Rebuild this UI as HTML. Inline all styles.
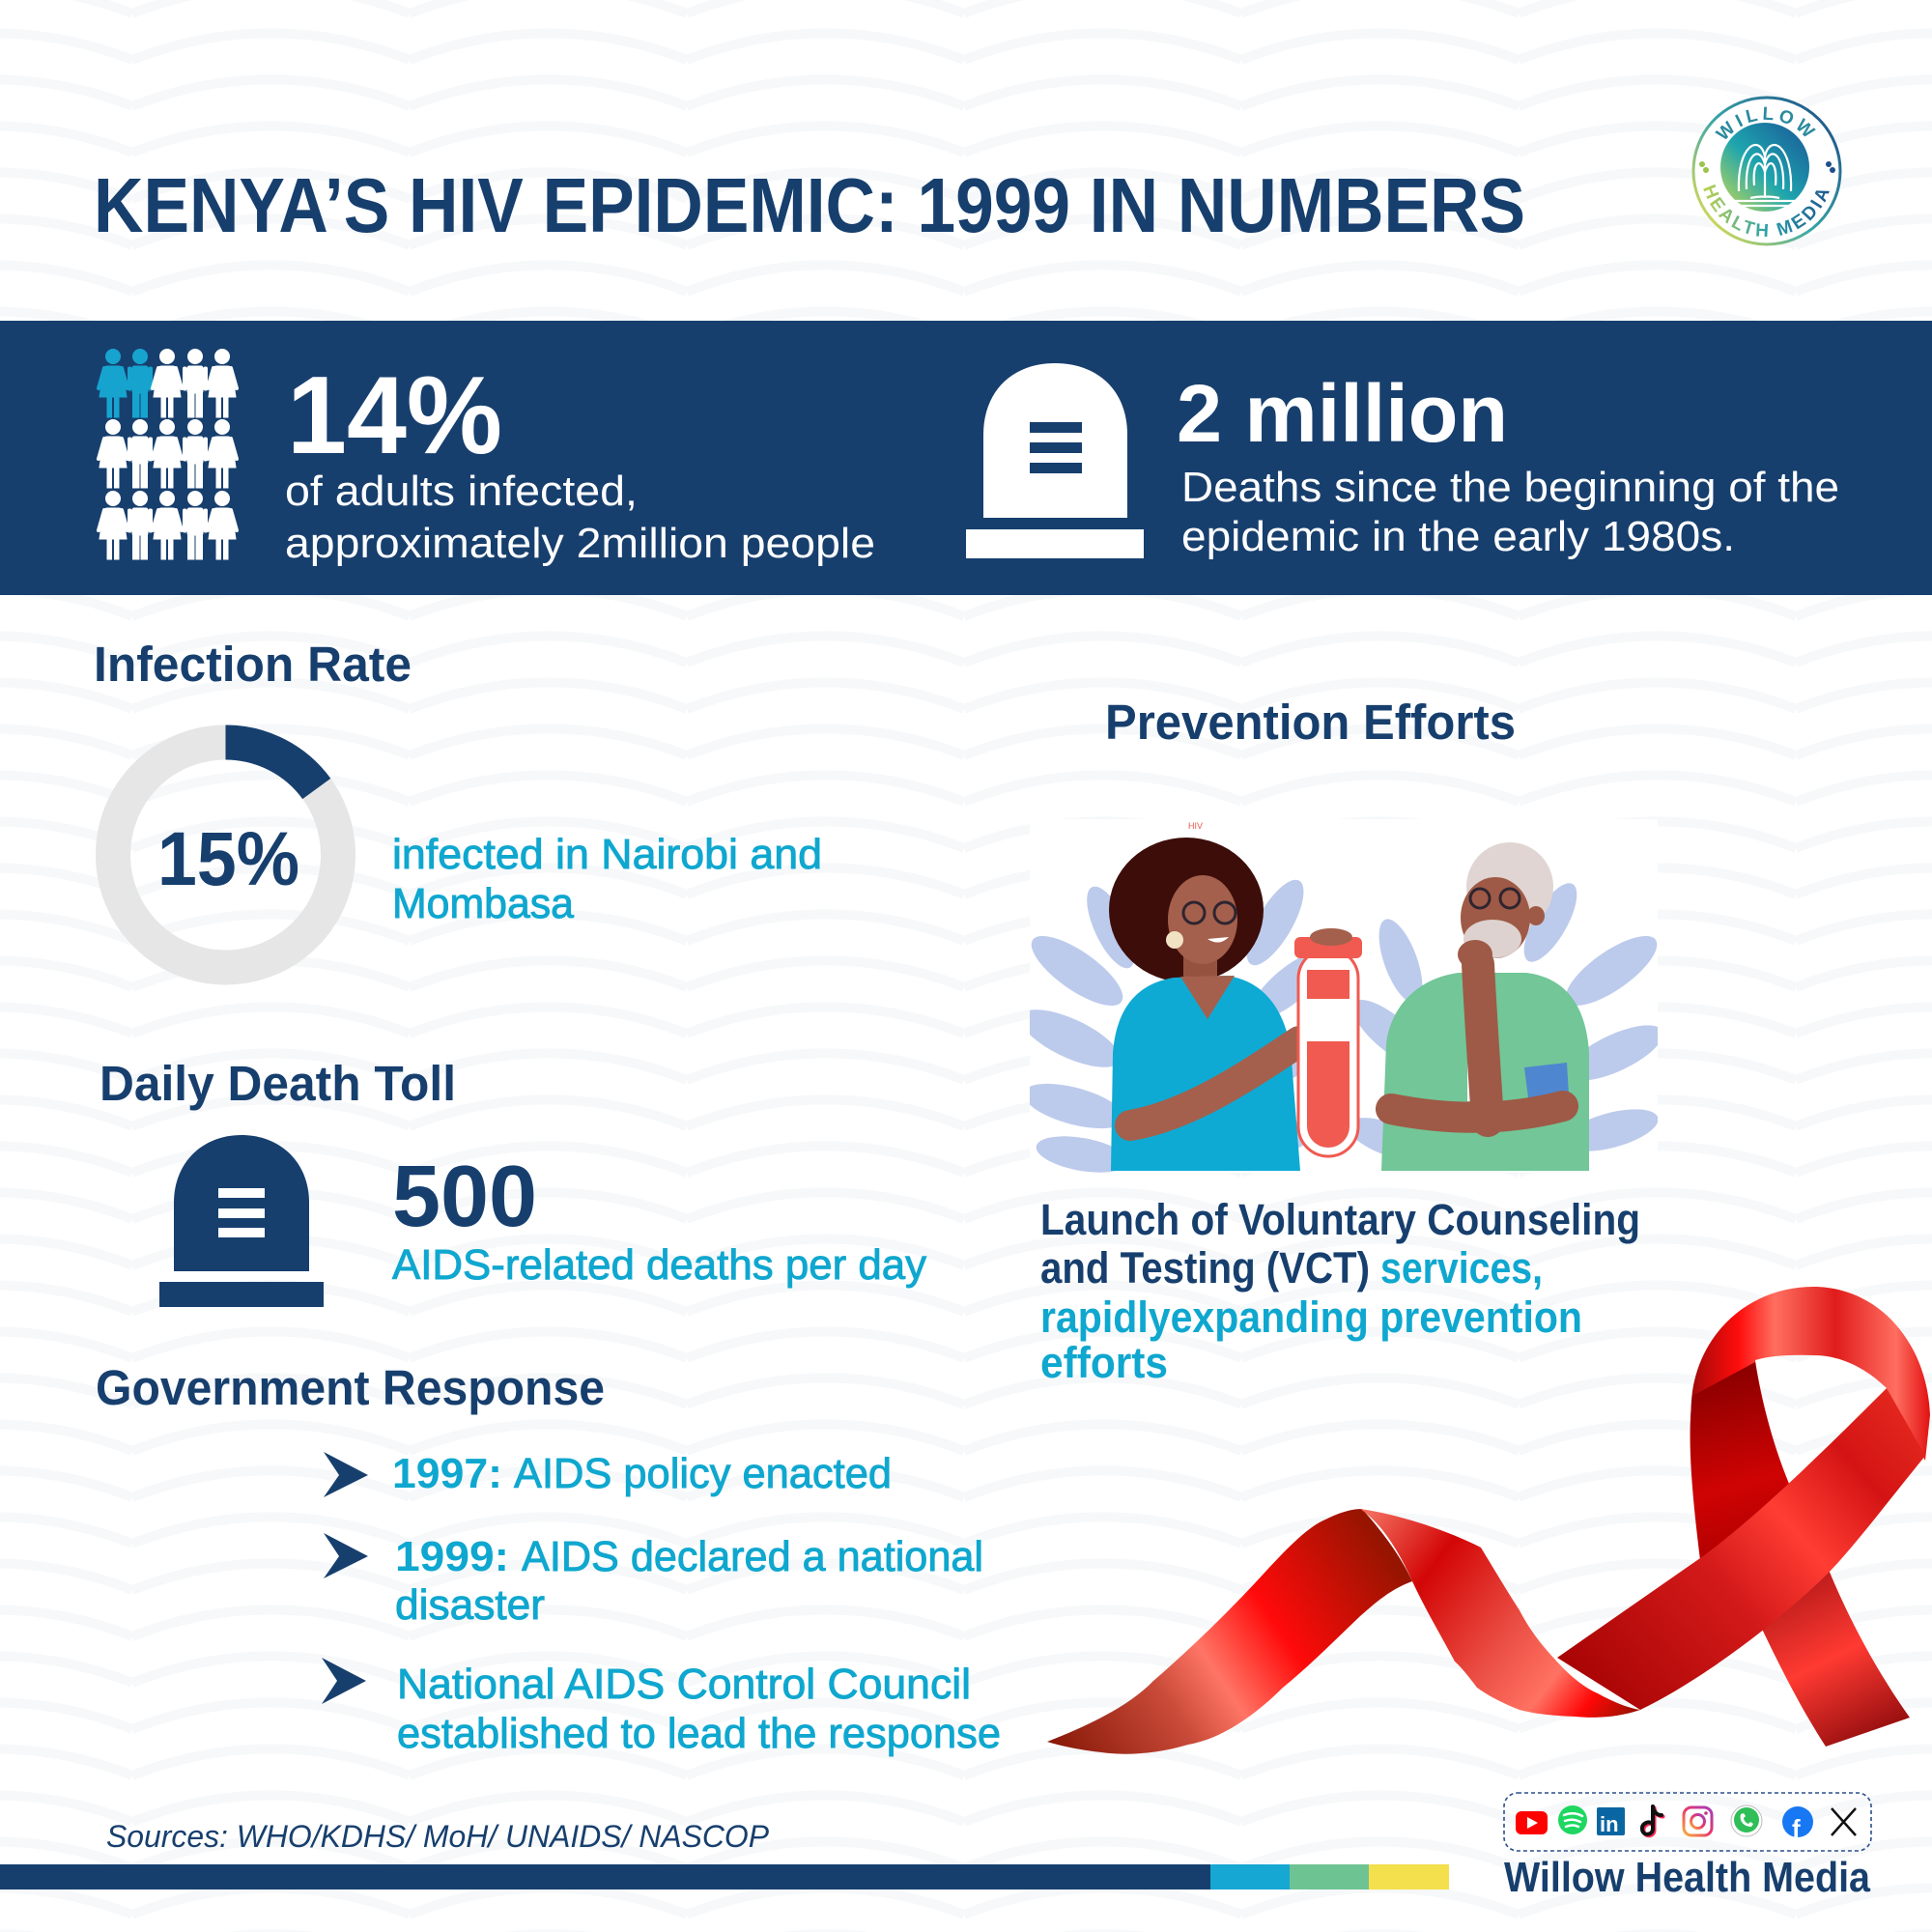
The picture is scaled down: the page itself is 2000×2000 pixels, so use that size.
<!DOCTYPE html>
<html><head><meta charset="utf-8"><style>
html,body{margin:0;padding:0;background:#fff;}
svg{display:block;}
text{font-family:"Liberation Sans",sans-serif;}
</style></head><body>
<svg width="2000" height="2000" viewBox="0 0 2000 2000" xmlns="http://www.w3.org/2000/svg">
<defs>
<pattern id="bgp" x="137" y="62" width="287" height="48" patternUnits="userSpaceOnUse">
<g fill="none" stroke="#f6f8fa" stroke-width="10">
<path d="M0,0 A386,386 0 0 1 287,0"/>
<path d="M0,48 A386,386 0 0 1 287,48"/>
<path d="M0,96 A386,386 0 0 1 287,96"/>
</g>
</pattern>
<clipPath id="illClip"><rect x="1066" y="848" width="650" height="366"/></clipPath>
<linearGradient id="ringG" x1="1755" y1="240" x2="1905" y2="110" gradientUnits="userSpaceOnUse">
<stop offset="0" stop-color="#f0e24a"/><stop offset="0.45" stop-color="#3aa7a8"/><stop offset="1" stop-color="#1a4a86"/>
</linearGradient>
<linearGradient id="logoG" x1="1785" y1="215" x2="1870" y2="130" gradientUnits="userSpaceOnUse">
<stop offset="0" stop-color="#b9d65a"/><stop offset="0.45" stop-color="#1ea5ae"/><stop offset="1" stop-color="#1a5a98"/>
</linearGradient>
<linearGradient id="botTxtG" x1="1760" y1="0" x2="1900" y2="0" gradientUnits="userSpaceOnUse">
<stop offset="0" stop-color="#c4d44a"/><stop offset="0.5" stop-color="#2aa1ac"/><stop offset="1" stop-color="#1c4f8c"/>
</linearGradient>
<linearGradient id="gA" x1="1090" y1="1800" x2="1420" y2="1580" gradientUnits="userSpaceOnUse">
<stop offset="0" stop-color="#8a1a0a"/><stop offset="0.3" stop-color="#c94a38"/><stop offset="0.45" stop-color="#ff7565"/><stop offset="0.65" stop-color="#ff0a0a"/><stop offset="1" stop-color="#951500"/>
</linearGradient>
<linearGradient id="gB" x1="1420" y1="1565" x2="1690" y2="1770" gradientUnits="userSpaceOnUse">
<stop offset="0" stop-color="#f26b5c"/><stop offset="0.25" stop-color="#d30606"/><stop offset="0.55" stop-color="#ea4c42"/><stop offset="0.75" stop-color="#ff7262"/><stop offset="0.88" stop-color="#ff0808"/><stop offset="1" stop-color="#a01000"/>
</linearGradient>
<linearGradient id="gD" x1="1650" y1="1760" x2="1990" y2="1460" gradientUnits="userSpaceOnUse">
<stop offset="0" stop-color="#a80404"/><stop offset="0.4" stop-color="#d41a1a"/><stop offset="0.6" stop-color="#ff3d33"/><stop offset="0.8" stop-color="#d41414"/><stop offset="1" stop-color="#e52a20"/>
</linearGradient>
<linearGradient id="gL" x1="1750" y1="1360" x2="2000" y2="1360" gradientUnits="userSpaceOnUse">
<stop offset="0" stop-color="#a00808"/><stop offset="0.2" stop-color="#ff0d0d"/><stop offset="0.35" stop-color="#ff6f60"/><stop offset="0.6" stop-color="#e01c1c"/><stop offset="0.85" stop-color="#ff6e60"/><stop offset="1" stop-color="#e00c0c"/>
</linearGradient>
<linearGradient id="gLs" x1="1780" y1="1420" x2="1830" y2="1610" gradientUnits="userSpaceOnUse">
<stop offset="0" stop-color="#8a0000"/><stop offset="0.6" stop-color="#cf0303"/><stop offset="1" stop-color="#b00000"/>
</linearGradient>
<linearGradient id="gE" x1="1850" y1="1640" x2="1930" y2="1800" gradientUnits="userSpaceOnUse">
<stop offset="0" stop-color="#b81a1a"/><stop offset="0.5" stop-color="#ff3a32"/><stop offset="1" stop-color="#9a1010"/>
</linearGradient>
<linearGradient id="igG" x1="0" y1="1" x2="1" y2="0">
<stop offset="0" stop-color="#f8b13a"/><stop offset="0.5" stop-color="#e8396a"/><stop offset="1" stop-color="#a23ac0"/>
</linearGradient>
<g id="fem">
<circle cx="0" cy="0" r="7.5"/>
<path d="M-6,10 L6,10 Q9,10 10,14 L14,42 L-14,42 L-10,14 Q-9,10 -6,10 Z"/>
<path d="M-9,12 L-15,33" stroke-width="4" stroke-linecap="round"/>
<path d="M9,12 L15,33" stroke-width="4" stroke-linecap="round"/>
<rect x="-6" y="40" width="4.5" height="23"/>
<rect x="1.5" y="40" width="4.5" height="23"/>
</g>
<g id="mal">
<circle cx="0" cy="0" r="7.5"/>
<rect x="-8" y="10" width="16" height="28" rx="2"/>
<rect x="-12.5" y="11" width="3.5" height="24" rx="1.5"/>
<rect x="9" y="11" width="3.5" height="24" rx="1.5"/>
<rect x="-7.5" y="36" width="6.5" height="27"/>
<rect x="1" y="36" width="6.5" height="27"/>
</g>
<path id="arcTop" d="M1776,177 A53,53 0 0 1 1882,177"/>
<path id="arcBot" d="M1761,177 A68,68 0 0 0 1897,177"/>
</defs>

<!-- background -->
<rect x="0" y="0" width="2000" height="2000" fill="#ffffff"/>
<rect x="0" y="0" width="2000" height="2000" fill="url(#bgp)"/>

<!-- title -->
<text x="97" y="240" font-size="80" font-weight="bold" fill="#173f6e" textLength="1482" lengthAdjust="spacingAndGlyphs">KENYA’S HIV EPIDEMIC: 1999 IN NUMBERS</text>

<!-- logo -->
<circle cx="1829" cy="177" r="76" fill="#ffffff" stroke="url(#ringG)" stroke-width="3"/>
<circle cx="1827" cy="173" r="46" fill="url(#logoG)"/>
<g fill="none" stroke="#ffffff" stroke-width="2.2">
<path d="M1800,198 C1798,150 1822,138 1827,162 C1832,138 1856,150 1854,198"/>
<path d="M1808,196 C1806,158 1822,150 1827,170 C1832,150 1848,158 1846,196"/>
<path d="M1816,192 C1814,168 1822,162 1827,178 C1832,162 1840,168 1838,192"/>
<path d="M1827,162 L1827,205 M1812,205 C1820,203 1834,203 1842,205"/>
<path d="M1790,208 L1864,208 M1796,213 L1858,213"/>
</g>
<text font-size="19" font-weight="bold" fill="#2a8a9e"><textPath href="#arcTop" startOffset="50%" text-anchor="middle" letter-spacing="4">WILLOW</textPath></text>
<text font-size="19" font-weight="bold" fill="url(#botTxtG)"><textPath href="#arcBot" startOffset="50%" text-anchor="middle" letter-spacing="3">HEALTH MEDIA</textPath></text>
<g fill="#9cc44a"><circle cx="1762" cy="170" r="3"/><circle cx="1766" cy="176" r="3"/></g>
<g fill="#1f4f8a"><circle cx="1893" cy="170" r="3"/><circle cx="1897" cy="176" r="3"/></g>

<!-- blue band -->
<rect x="0" y="332" width="2000" height="284" fill="#173f6e"/>

<!-- people -->
<g fill="#16a4cf" stroke="#16a4cf">
<use href="#fem" x="117" y="369"/>
<use href="#mal" x="145" y="369"/>
</g>
<g fill="#ffffff" stroke="#ffffff">
<use href="#fem" x="173" y="369"/>
<use href="#mal" x="202" y="369"/>
<use href="#fem" x="230" y="369"/>
<use href="#fem" x="117" y="442"/>
<use href="#mal" x="145" y="442"/>
<use href="#fem" x="173" y="442"/>
<use href="#mal" x="202" y="442"/>
<use href="#fem" x="230" y="442"/>
<use href="#fem" x="117" y="516"/>
<use href="#mal" x="145" y="516"/>
<use href="#fem" x="173" y="516"/>
<use href="#mal" x="202" y="516"/>
<use href="#fem" x="230" y="516"/>
</g>

<text x="297" y="469" font-size="114" font-weight="bold" fill="#ffffff" textLength="223" lengthAdjust="spacingAndGlyphs">14%</text>
<text x="295" y="523" font-size="44" fill="#ffffff" textLength="365" lengthAdjust="spacingAndGlyphs">of adults infected,</text>
<text x="295" y="577" font-size="44" fill="#ffffff" textLength="611" lengthAdjust="spacingAndGlyphs">approximately 2million people</text>

<!-- white tombstone -->
<path d="M1018,536 L1018,450 C1018,405 1048,376 1092,376 C1137,376 1167,405 1167,450 L1167,536 Z" fill="#ffffff"/>
<rect x="1000" y="548" width="184" height="30" fill="#ffffff"/>
<g fill="#173f6e">
<rect x="1066" y="437" width="54" height="11"/>
<rect x="1066" y="458" width="54" height="11"/>
<rect x="1066" y="479" width="54" height="11"/>
</g>

<text x="1218" y="457" font-size="84" font-weight="bold" fill="#ffffff" textLength="343" lengthAdjust="spacingAndGlyphs">2 million</text>
<text x="1223" y="519" font-size="44" fill="#ffffff" textLength="681" lengthAdjust="spacingAndGlyphs">Deaths since the beginning of the</text>
<text x="1223" y="570" font-size="44" fill="#ffffff" textLength="573" lengthAdjust="spacingAndGlyphs">epidemic in the early 1980s.</text>

<!-- Infection rate -->
<text x="97" y="705" font-size="51" font-weight="bold" fill="#173f6e" textLength="329" lengthAdjust="spacingAndGlyphs">Infection Rate</text>
<circle cx="233.5" cy="885" r="116.5" fill="none" stroke="#e6e6e6" stroke-width="36"/>
<path d="M233.5,768.5 A116.5,116.5 0 0 1 327.75,816.5" fill="none" stroke="#173f6e" stroke-width="36"/>
<text x="163" y="916" font-size="79" font-weight="bold" fill="#173f6e" textLength="147" lengthAdjust="spacingAndGlyphs">15%</text>
<g fill="#0fa7cf" stroke="#0fa7cf" stroke-width="0.9">
<text x="406" y="899" font-size="44" textLength="445" lengthAdjust="spacingAndGlyphs">infected in Nairobi and</text>
<text x="406" y="950" font-size="44" textLength="188" lengthAdjust="spacingAndGlyphs">Mombasa</text>
</g>

<!-- Daily death toll -->
<text x="103" y="1139" font-size="51" font-weight="bold" fill="#173f6e" textLength="369" lengthAdjust="spacingAndGlyphs">Daily Death Toll</text>
<path d="M180,1316 L180,1245 C180,1203 210,1175 250,1175 C290,1175 320,1203 320,1245 L320,1316 Z" fill="#173f6e"/>
<rect x="165" y="1327" width="170" height="26" fill="#173f6e"/>
<g fill="#ffffff">
<rect x="226" y="1230" width="48" height="10"/>
<rect x="226" y="1251" width="48" height="10"/>
<rect x="226" y="1271" width="48" height="10"/>
</g>
<text x="406" y="1269" font-size="90" font-weight="bold" fill="#173f6e" textLength="150" lengthAdjust="spacingAndGlyphs">500</text>
<text x="406" y="1324" font-size="44" fill="#0fa7cf" stroke="#0fa7cf" stroke-width="0.9" textLength="553" lengthAdjust="spacingAndGlyphs">AIDS-related deaths per day</text>

<!-- Government response -->
<text x="99" y="1454" font-size="51" font-weight="bold" fill="#173f6e" textLength="527" lengthAdjust="spacingAndGlyphs">Government Response</text>
<g fill="#173f6e">
<path d="M335,1503 L381,1527 L335,1550 L351,1527 Z"/>
<path d="M335,1587 L381,1611 L335,1634 L351,1611 Z"/>
<path d="M333,1716 L379,1740 L333,1764 L349,1740 Z"/>
</g>
<g fill="#0fa7cf">
<text x="406" y="1540" font-size="44" font-weight="bold" textLength="114" lengthAdjust="spacingAndGlyphs">1997:</text>
<text x="532" y="1540" font-size="44" stroke="#0fa7cf" stroke-width="0.9" textLength="391" lengthAdjust="spacingAndGlyphs">AIDS policy enacted</text>
<text x="409" y="1626" font-size="44" font-weight="bold" textLength="118" lengthAdjust="spacingAndGlyphs">1999:</text>
<text x="540" y="1626" font-size="44" stroke="#0fa7cf" stroke-width="0.9" textLength="478" lengthAdjust="spacingAndGlyphs">AIDS declared a national</text>
<text x="409" y="1676" font-size="44" stroke="#0fa7cf" stroke-width="0.9" textLength="155" lengthAdjust="spacingAndGlyphs">disaster</text>
<text x="411" y="1758" font-size="44" stroke="#0fa7cf" stroke-width="0.9" textLength="594" lengthAdjust="spacingAndGlyphs">National AIDS Control Council</text>
<text x="411" y="1809" font-size="44" stroke="#0fa7cf" stroke-width="0.9" textLength="625" lengthAdjust="spacingAndGlyphs">established to lead the response</text>
</g>

<!-- sources -->
<text x="110" y="1912" font-size="32" font-style="italic" fill="#173f6e" textLength="686" lengthAdjust="spacingAndGlyphs">Sources: WHO/KDHS/ MoH/ UNAIDS/ NASCOP</text>

<!-- bottom bar -->
<rect x="0" y="1930" width="1253" height="26" fill="#173f6e"/>
<rect x="1253" y="1930" width="82" height="26" fill="#17a7d3"/>
<rect x="1335" y="1930" width="82" height="26" fill="#6ec393"/>
<rect x="1417" y="1930" width="83" height="26" fill="#f4df4c"/>

<!-- Prevention efforts -->
<text x="1144" y="765" font-size="51" font-weight="bold" fill="#173f6e" textLength="425" lengthAdjust="spacingAndGlyphs">Prevention Efforts</text>

<!-- illustration -->
<rect x="1066" y="848" width="650" height="366" fill="#ffffff"/>
<g fill="#bccbec" clip-path="url(#illClip)">
<ellipse cx="1115" cy="1005" rx="56" ry="20" transform="rotate(35 1115 1005)"/>
<ellipse cx="1108" cy="1075" rx="56" ry="20" transform="rotate(25 1108 1075)"/>
<ellipse cx="1112" cy="1145" rx="54" ry="19" transform="rotate(15 1112 1145)"/>
<ellipse cx="1120" cy="1195" rx="48" ry="17" transform="rotate(10 1120 1195)"/>
<ellipse cx="1150" cy="960" rx="46" ry="17" transform="rotate(65 1150 960)"/>
<ellipse cx="1320" cy="955" rx="50" ry="18" transform="rotate(-60 1320 955)"/>
<ellipse cx="1335" cy="1020" rx="50" ry="18" transform="rotate(-40 1335 1020)"/>
<ellipse cx="1330" cy="1100" rx="50" ry="18" transform="rotate(-25 1330 1100)"/>
<ellipse cx="1320" cy="1180" rx="46" ry="16" transform="rotate(-15 1320 1180)"/>
<ellipse cx="1450" cy="995" rx="46" ry="17" transform="rotate(70 1450 995)"/>
<ellipse cx="1440" cy="1070" rx="50" ry="18" transform="rotate(40 1440 1070)"/>
<ellipse cx="1440" cy="1180" rx="48" ry="17" transform="rotate(20 1440 1180)"/>
<ellipse cx="1605" cy="955" rx="46" ry="17" transform="rotate(-60 1605 955)"/>
<ellipse cx="1668" cy="1005" rx="56" ry="20" transform="rotate(-35 1668 1005)"/>
<ellipse cx="1672" cy="1090" rx="54" ry="19" transform="rotate(-25 1672 1090)"/>
<ellipse cx="1668" cy="1170" rx="50" ry="18" transform="rotate(-15 1668 1170)"/>
</g>
<!-- woman -->
<ellipse cx="1228" cy="942" rx="80" ry="75" fill="#3d0d0a"/>
<rect x="1225" y="985" width="35" height="35" fill="#95533f"/>
<ellipse cx="1245" cy="952" rx="36" ry="46" fill="#a4604c"/>
<circle cx="1216" cy="973" r="9" fill="#f2e2c4"/>
<g fill="none" stroke="#2e2430" stroke-width="3"><circle cx="1236" cy="945" r="11"/><circle cx="1268" cy="945" r="11"/></g>
<path d="M1250,972 Q1262,980 1272,970" fill="#ffffff"/>
<path d="M1150,1212 L1152,1090 C1156,1040 1180,1018 1215,1012 L1270,1010 C1305,1015 1328,1040 1336,1085 L1346,1212 Z" fill="#0eaad3"/>
<path d="M1222,1011 L1250,1055 L1278,1010 Z" fill="#a4604c"/>
<path d="M1170,1165 C1230,1155 1290,1115 1345,1078" fill="none" stroke="#a4604c" stroke-width="32" stroke-linecap="round"/>
<!-- tube -->
<rect x="1344" y="982" width="62" height="215" rx="31" fill="#ffffff" stroke="#f05a50" stroke-width="3"/>
<rect x="1353" y="1004" width="44" height="30" fill="#f05a50"/>
<rect x="1353" y="1078" width="44" height="110" rx="22" fill="#f05a50"/>
<rect x="1353" y="1078" width="44" height="40" fill="#f05a50"/>
<rect x="1340" y="970" width="70" height="22" rx="6" fill="#f05a50"/>
<ellipse cx="1378" cy="970" rx="22" ry="9" fill="#a4604c"/>
<!-- man -->
<path d="M1430,1212 L1435,1080 C1440,1040 1470,1012 1510,1007 L1580,1007 C1620,1012 1642,1040 1645,1090 L1645,1212 Z" fill="#72c697"/>
<rect x="1519" y="1020" width="28" height="120" fill="#ffffff"/>
<ellipse cx="1563" cy="918" rx="45" ry="46" fill="#e0d5d2"/>
<ellipse cx="1590" cy="948" rx="9" ry="10" fill="#9e5a46"/>
<ellipse cx="1548" cy="950" rx="36" ry="42" fill="#9e5a46"/>
<ellipse cx="1545" cy="972" rx="30" ry="20" fill="#ddd2cf"/>
<g fill="none" stroke="#2e2430" stroke-width="3"><circle cx="1532" cy="930" r="10"/><circle cx="1563" cy="930" r="10"/></g>
<path d="M1540,1160 C1536,1100 1532,1040 1530,998" fill="none" stroke="#9e5a46" stroke-width="34" stroke-linecap="round"/>
<ellipse cx="1527" cy="988" rx="18" ry="15" fill="#9e5a46"/>
<path d="M1578,1105 L1622,1100 L1625,1150 L1585,1160 Z" fill="#4f86d0"/>
<path d="M1440,1148 C1500,1160 1560,1160 1618,1145" fill="none" stroke="#9e5a46" stroke-width="32" stroke-linecap="round"/>
<text x="1230" y="858" font-size="9" fill="#e8574b">HIV</text>

<!-- VCT text -->
<g font-size="45" font-weight="bold">
<text x="1077" y="1278" fill="#173f6e" textLength="621" lengthAdjust="spacingAndGlyphs">Launch of Voluntary Counseling</text>
<text x="1077" y="1328" fill="#173f6e" textLength="341" lengthAdjust="spacingAndGlyphs">and Testing (VCT)</text>
<text x="1429" y="1328" fill="#0fa7cf" textLength="168" lengthAdjust="spacingAndGlyphs">services,</text>
<text x="1077" y="1379" fill="#0fa7cf" textLength="561" lengthAdjust="spacingAndGlyphs">rapidlyexpanding prevention</text>
<text x="1077" y="1426" fill="#0fa7cf" textLength="132" lengthAdjust="spacingAndGlyphs">efforts</text>
</g>

<!-- red ribbon -->
<path d="M1821,1680 L1893,1625 C1920,1690 1950,1740 1977,1778 L1890,1808 C1865,1770 1840,1720 1821,1680 Z" fill="url(#gE)"/>
<path d="M1780,1615 C1757,1545 1746,1485 1752,1440 C1762,1375 1815,1332 1877,1332 C1945,1332 1995,1390 1998,1465 L1993,1512 L1953,1437 C1930,1415 1905,1403 1877,1403 C1850,1402 1830,1404 1817,1408 C1825,1460 1840,1510 1858,1550 Z" fill="url(#gL)"/>
<path d="M1760,1615 C1752,1550 1746,1490 1752,1445 L1817,1410 C1825,1460 1840,1510 1858,1550 Z" fill="url(#gLs)"/>
<path d="M1084,1803 C1130,1785 1170,1765 1194,1740 C1240,1700 1280,1660 1310,1627 C1335,1600 1355,1580 1372,1573 C1388,1565 1400,1562 1410,1562 C1435,1590 1452,1615 1462,1637 C1440,1645 1425,1658 1408,1673 C1380,1700 1355,1725 1328,1747 C1300,1775 1265,1800 1230,1806 C1200,1815 1170,1817 1149,1815 C1120,1812 1100,1808 1084,1803 Z" fill="url(#gA)"/>
<path d="M1612,1716 L1760,1613 C1820,1570 1900,1490 1953,1437 L1993,1507 C1950,1560 1920,1600 1893,1628 C1830,1690 1750,1745 1698,1770 Z" fill="url(#gD)"/>
<path d="M1408,1562 C1450,1568 1500,1585 1533,1602 C1550,1630 1562,1650 1573,1667 C1585,1690 1598,1705 1609,1717 C1625,1735 1640,1747 1654,1753 C1670,1762 1685,1768 1698,1770 C1675,1778 1650,1779 1631,1777 C1605,1776 1588,1774 1573,1770 C1555,1763 1540,1755 1529,1747 C1520,1735 1512,1725 1506,1720 C1490,1690 1475,1665 1462,1637 C1450,1610 1432,1578 1408,1562 Z" fill="url(#gB)"/>

<!-- social box -->
<rect x="1557" y="1856" width="380" height="60" rx="14" fill="none" stroke="#2b4f8a" stroke-width="1.6" stroke-dasharray="4 3"/>
<rect x="1569" y="1875" width="33" height="24" rx="6" fill="#ff0000"/>
<path d="M1581,1881 L1592,1887 L1581,1893 Z" fill="#ffffff"/>
<circle cx="1628" cy="1884" r="15" fill="#1ed760"/>
<g fill="none" stroke="#ffffff" stroke-width="2.5" stroke-linecap="round"><path d="M1619,1879 Q1629,1875 1638,1880"/><path d="M1620,1885 Q1628,1882 1636,1886"/><path d="M1621,1891 Q1628,1888 1634,1891"/></g>
<rect x="1653" y="1871" width="29" height="29" rx="2" fill="#0a66a2"/>
<text x="1656" y="1896" font-size="22" font-weight="bold" fill="#ffffff">in</text>
<path d="M1711,1870 L1711,1893 C1711,1900 1701,1901 1700,1894 C1699,1888 1706,1885 1709,1887 M1711,1870 C1712,1877 1716,1879 1720,1879" fill="none" stroke="#ff2a55" stroke-width="4" stroke-linecap="round" transform="translate(1.5,1.5)"/>
<path d="M1711,1870 L1711,1893 C1711,1900 1701,1901 1700,1894 C1699,1888 1706,1885 1709,1887 M1711,1870 C1712,1877 1716,1879 1720,1879" fill="none" stroke="#111111" stroke-width="4" stroke-linecap="round"/>
<rect x="1743" y="1871" width="29" height="29" rx="8" fill="none" stroke="url(#igG)" stroke-width="3"/>
<circle cx="1757.5" cy="1885.5" r="7" fill="none" stroke="url(#igG)" stroke-width="3"/>
<circle cx="1766" cy="1877" r="1.8" fill="#c13584"/>
<circle cx="1808" cy="1885" r="16" fill="#ffffff" stroke="#bbbbbb" stroke-width="1"/>
<circle cx="1808" cy="1884" r="13" fill="#2fbe57"/>
<path d="M1802,1878 C1800,1886 1806,1891 1813,1891 L1815,1888 L1812,1886 L1810,1888 C1807,1887 1805,1884 1805,1882 L1807,1880 L1805,1877 Z" fill="#ffffff"/>
<circle cx="1861" cy="1886" r="16" fill="#1877f2"/>
<text x="1855" y="1902" font-size="26" font-weight="bold" fill="#ffffff">f</text>
<g stroke="#111111" stroke-width="2.5"><path d="M1896,1872 L1921,1900"/><path d="M1921,1872 L1896,1900"/></g>

<text x="1557" y="1958" font-size="44" font-weight="bold" fill="#173f6e" textLength="379" lengthAdjust="spacingAndGlyphs">Willow Health Media</text>
</svg>
</body></html>
